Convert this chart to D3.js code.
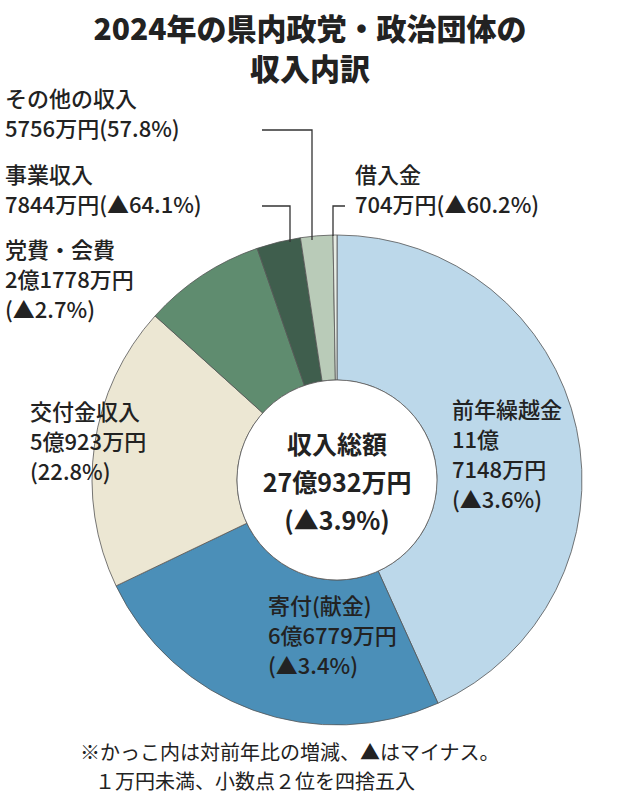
<!DOCTYPE html>
<html><head><meta charset="utf-8">
<script src="https://cdn.jsdelivr.net/npm/d3@7"></script>
<style>body{margin:0;background:#fff}text{font-family:"Noto Sans CJK JP",sans-serif;fill:#222}</style>
</head><body><svg id="c" width="620" height="800"></svg>
<script>
const categories=["前年繰越金","寄付(献金)","交付金収入","党費・会費","事業収入","その他の収入","借入金"];
const values=[117148,66779,50923,21778,7844,5756,704];
const colors=["#bcd8ea","#4b8fb8","#ece7d3","#5f8c6f","#3f5e4d","#b9cbb8","#e6ece4"];
const labelLines=[
 ["前年繰越金","11億","7148万円","(▲3.6%)"],
 ["寄付(献金)","6億6779万円","(▲3.4%)"],
 ["交付金収入","5億923万円","(22.8%)"],
 ["党費・会費","2億1778万円","(▲2.7%)"],
 ["事業収入","7844万円(▲64.1%)"],
 ["その他の収入","5756万円(57.8%)"],
 ["借入金","704万円(▲60.2%)"]];
const notes=["※かっこ内は対前年比の増減、▲はマイナス。","１万円未満、小数点２位を四捨五入"];
const svg=d3.select("#c");
svg.append("text").attr("x",310).attr("y",40).attr("text-anchor","middle").attr("font-size",30).attr("font-weight","900").text("2024年の県内政党・政治団体の");
svg.append("text").attr("x",310).attr("y",80).attr("text-anchor","middle").attr("font-size",30).attr("font-weight","900").text("収入内訳");
const cx=337,cy=480,R=245,r=100;
const g=svg.append("g").attr("transform",`translate(${cx},${cy})`);
const pie=d3.pie().sort(null).value(d=>d)(values);
const arc=d3.arc().innerRadius(r).outerRadius(R);
g.selectAll("path").data(pie).join("path").attr("d",arc).attr("fill",(d,i)=>colors[i]).attr("stroke","#555").attr("stroke-width",0.8);
g.append("circle").attr("r",r).attr("fill","#fff").attr("stroke","#555").attr("stroke-width",0.8);
const ct=[["収入総額",-26],["27億932万円",12],["(▲3.9%)",50]];
ct.forEach(([t,y])=>g.append("text").attr("y",y).attr("text-anchor","middle").attr("font-size",25).attr("font-weight","bold").text(t));
const fs=22;
function block(lines,x,y){lines.forEach((l,i)=>svg.append("text").attr("x",x).attr("y",y+i*30).attr("font-size",fs).attr("font-weight","500").text(l));}
block(labelLines[0],452,418);
block(labelLines[1],268,614);
block(labelLines[2],30,420);
block(labelLines[3],5,258);
block(labelLines[4],5,183);
block(labelLines[5],5,107);
block(labelLines[6],355,183);
const ln=d=>svg.append("path").attr("d",d).attr("fill","none").attr("stroke","#333").attr("stroke-width",1.3);
ln("M262,130 L312,130 L312,240");
ln("M262,206 L290,206 L290,242");
ln("M345,206 L333,206 L333,236");
notes.forEach((t,i)=>svg.append("text").attr("x",i?95:80).attr("y",760+i*29).attr("font-size",20).text(t));
</script></body></html>
